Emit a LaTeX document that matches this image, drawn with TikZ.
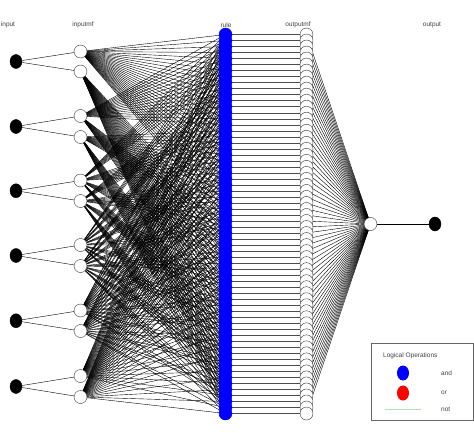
\documentclass[tikz,border=0pt]{standalone}
\usepackage{fontspec}
\setmainfont{Liberation Sans}
\usetikzlibrary{backgrounds,shapes.geometric}
\begin{document}
\begin{tikzpicture}[x=1pt,y=-1pt,
  inp/.style={ellipse,fill=black,draw=black,minimum width=12pt,minimum height=14pt,inner sep=0pt},
  mfc/.style={circle,draw=black!80,fill=white,minimum size=13pt,inner sep=0pt,line width=0.4pt},
  rulec/.style={circle,fill=blue,draw=blue,minimum size=13pt,inner sep=0pt},
  outc/.style={circle,draw=black!80,fill=white,minimum size=13pt,inner sep=0pt,line width=0.4pt},
  lbl/.style={font=\fontsize{6.5}{7.5}\selectfont,text=black!75,inner sep=0pt},
  wire/.style={line width=0.4pt,black},
  hwire/.style={line width=0.4pt,black!70}]
\useasboundingbox (0,0) rectangle (474,441);
% labels
\node[lbl] (Linput) at (8,25) {input};
\node[lbl] (Linputmf) at (83,25) {inputmf};
\node[lbl] (Lrule) at (226,25) {rule};
\node[lbl] (Loutputmf) at (298,25) {outputmf};
\node[lbl] (Loutput) at (432,25) {output};
% input nodes
\foreach \j/\ya/\yb in {1/51.5/71.5,2/116/137,3/180.5/201,4/245/266,5/310.5/331,6/376/397}{
  \pgfmathsetmacro{\ym}{(\ya+\yb)/2}
  \node[inp] (in\j) at (16,\ym) {};
  \pgfmathtruncatemacro{\ma}{2*\j-1}
  \pgfmathtruncatemacro{\mb}{2*\j}
  \node[mfc] (mf\ma) at (80.5,\ya) {};
  \node[mfc] (mf\mb) at (80.5,\yb) {};
}
% rules and output mfs
\foreach \i in {0,...,63}{
  \pgfmathsetmacro{\yr}{34.5+6.016*\i}
  \node[rulec] (r\i) at (225.5,\yr) {};
}
\foreach \i in {0,...,63}{
  \pgfmathsetmacro{\yr}{34.5+6.016*\i}
  \node[outc] (o\i) at (306.5,\yr) {};
}
\node[outc] (out) at (370.5,224) {};
\node[inp] (res) at (435,224) {};
% connectors
\begin{scope}[on background layer]
\foreach \j in {1,...,6}{
  \pgfmathtruncatemacro{\ma}{2*\j-1}
  \pgfmathtruncatemacro{\mb}{2*\j}
  \draw[wire] (in\j) -- (mf\ma);
  \draw[wire] (in\j) -- (mf\mb);
}
\foreach \i in {0,...,63}{
  \foreach \j in {1,...,6}{
    \pgfmathtruncatemacro{\b}{mod(floor(\i/(2^(6-\j))),2)}
    \pgfmathtruncatemacro{\m}{2*(\j-1)+\b+1}
    \draw[wire] (mf\m.center) -- (r\i.center);
  }
  \draw[hwire] (r\i.center) -- (o\i.center);
  \draw[wire] (o\i.center) -- (out.center);
}
\draw[wire] (out) -- (res);
\end{scope}
% legend
\draw[black!60,line width=0.5pt] (371,343) rectangle (473,420);
\node[lbl,anchor=west] (Llog) at (383,356) {Logical Operations};
\node[ellipse,fill=blue,minimum width=12pt,minimum height=15pt,inner sep=0pt] (Land) at (403,373) {};
\node[ellipse,fill=red,minimum width=12pt,minimum height=15pt,inner sep=0pt] (Lor) at (403,393) {};
\coordinate (nl1) at (385,409);
\coordinate (nl2) at (421,409);
\draw[green!60!black!30,line width=0.3pt] (nl1) -- (nl2);
\node[lbl,anchor=west] (Tand) at (441,373) {and};
\node[lbl,anchor=west] (Tor) at (441,393) {or};
\node[lbl,anchor=west] (Tnot) at (441,409) {not};
\end{tikzpicture}
\end{document}
